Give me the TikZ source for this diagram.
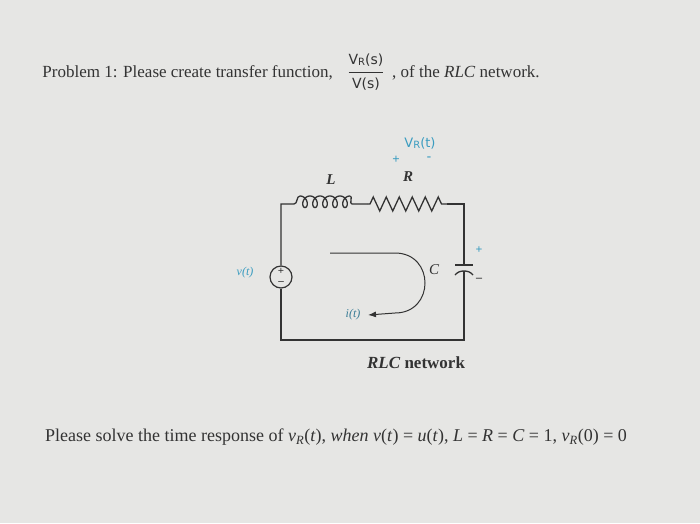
\documentclass[tikz,border=0pt]{standalone}
\usepackage{fontspec}
\setmainfont{Liberation Serif}
\newfontfamily\dsans{DejaVu Sans}
\usetikzlibrary{decorations.pathmorphing,arrows.meta}
\definecolor{bg}{HTML}{E6E6E4}
\definecolor{ink}{HTML}{333333}
\definecolor{blu}{HTML}{3A9CC0}
\tikzset{wire/.style={draw=ink,line width=1.3pt},
 lab/.style={inner sep=0pt,text=ink,font=\fontsize{17}{19}\selectfont}}
\begin{document}
\begin{tikzpicture}[x=1pt,y=-1pt]
\fill[bg] (0,0) rectangle (700,523);
\useasboundingbox (0,0) rectangle (700,523);
% title
\node[lab,anchor=east] (t1) at (333,73) {Problem 1: Please create transfer function,};
\node[lab,inner sep=1pt] (fr) at (366,72) {$\displaystyle\frac{\hbox{\dsans\fontsize{14}{16}\selectfont V\raisebox{-1pt}{\fontsize{10}{10}\selectfont R}(s)}}{\hbox{\dsans\fontsize{14}{16}\selectfont V(s)}}$};
\node[lab,anchor=west] (t2) at (392,73) {, of the \textit{RLC} network.};
% circuit coordinates
\coordinate (tl) at (281,204);
\coordinate (tr) at (464,204);
\coordinate (bl) at (281,340);
\coordinate (br) at (464,340);
\coordinate (l0) at (294,204);
\coordinate (l1) at (352,204);
\coordinate (r0) at (367,204);
\coordinate (r1) at (447,204);
\coordinate (c0) at (464,265);
\coordinate (c1) at (464,272);
\node[circle,draw=ink,line width=1.2pt,minimum size=22pt,inner sep=0pt] (src) at (281,277) {};
\node[inner sep=0pt,text=ink,font=\fontsize{11}{11}\selectfont\bfseries] at (281,271) {+};
\node[inner sep=0pt,text=ink,font=\fontsize{11}{11}\selectfont\bfseries] at (281,283) {--};
\draw[wire] (src.north) |- (tl) -- (l0) to[out=0,in=180] (300,196);
\draw[wire,line join=round] plot[domain=0:1800,samples=250,smooth] ({300+1.5915*rad(\x)+4.5*sin(\x)},{196+7.5*(1-cos(\x))/2+ (1-cos(\x))*2});
\draw[wire] (350,196) to[out=0,in=180] (l1) -- (r0);
\draw[wire,decoration={zigzag,segment length=13pt,amplitude=7pt,pre length=3pt,post length=3pt},decorate] (r0) -- (r1);
\draw[wire] (r1) -- (tr) -- (c0);
\draw[wire] (455,265) -- (473,265);
\draw[wire] (455,275) to[bend left=25] (464,271) to[bend left=25] (473,275);
\draw[wire] (464,271) -- (c1) |- (bl) -- (src.south);
% loop arrow
\draw[draw=ink,line width=1pt,-{Latex[length=8pt,width=6pt]}] (330,253) -- (395,253) .. controls (435,253) and (435,313) .. (395,313) -- (368,315);
% labels
\node[lab,font=\fontsize{15}{16}\selectfont\itshape\bfseries] (Ll) at (331,180) {L};
\node[lab,font=\fontsize{15}{16}\selectfont\itshape\bfseries] (Rl) at (408,177) {R};
\node[inner sep=0pt,text=blu,font=\fontsize{13}{13}\selectfont\bfseries] at (396,160) {+};
\node[inner sep=0pt,text=blu,font=\fontsize{13}{13}\selectfont\bfseries] at (429,159) {-};
\node[inner sep=0pt,text=blu,font=\dsans\fontsize{13}{14}\selectfont] (vr) at (420,143) {V\raisebox{-1pt}{\fontsize{10}{10}\selectfont R}(t)};
\node[lab,font=\fontsize{15}{16}\selectfont\itshape] (Cl) at (434,270) {C};
\node[inner sep=0pt,text=blu,font=\fontsize{12}{12}\selectfont\bfseries] at (479,250) {+};
\node[inner sep=0pt,text=ink,font=\fontsize{12}{12}\selectfont\bfseries] at (479,280) {--};
\node[inner sep=0pt,text=blu,font=\fontsize{12}{12}\selectfont\itshape] (vl) at (245,273) {v(\textit{t})};
\node[inner sep=0pt,text=blu!70!ink,font=\fontsize{12}{12}\selectfont\itshape] (il) at (353,315) {i(t)};
\node[lab,font=\fontsize{17}{19}\selectfont\bfseries] (net) at (416,363) {\textit{RLC} network};
% bottom
\node[lab,font=\fontsize{18}{20}\selectfont,anchor=west] (b1) at (45,437) {Please solve the time response of \textit{v}\textsubscript{\textit{R}}(\textit{t}), \textit{when v}(\textit{t}) = \textit{u}(\textit{t}), \textit{L} = \textit{R} = \textit{C} = 1, \textit{v}\textsubscript{\textit{R}}(0) = 0};
\end{tikzpicture}
\end{document}
